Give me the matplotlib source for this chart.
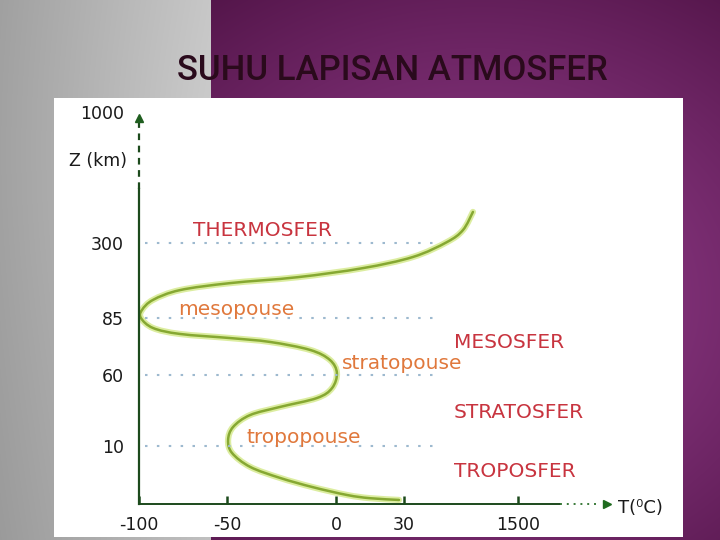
import numpy as np
import matplotlib
matplotlib.use("Agg")
import matplotlib.pyplot as plt
from matplotlib.path import Path
from matplotlib.patches import PathPatch, Rectangle

# --- data ---
t_ticks = [-100, -50, 0, 30, 1500]
z_ticks = [10, 60, 85, 300, 1000]

# temperature profile, T in degC, Z in km
curve_t = [27.8, 15.0, 4.9, -10.6, -25.7, -39.4, -47.7, -49.5, -47.2, -39.4,
           -25.7, -8.7, -1.8, 0.4, -2.8, -11.9, -30.3, -48.6, -76.7, -92.0,
           -98.9, -98.3, -92.0, -76.7, -48.6, -17.6, 11.9, 146, 584, 790, 919]
curve_z = [0.7, 1.0, 1.55, 2.9, 4.5, 6.4, 8.8, 14.2, 23.4, 31.8,
           37.5, 43.8, 50.8, 60.9, 66.6, 71.0, 74.5, 76.2, 78.0, 80.6,
           85.0, 108, 137, 165, 185, 202, 228, 260, 305, 369, 466]

boundary_z = [10, 60, 85, 300]
layer_names = ["TROPOSFER", "STRATOSFER", "MESOSFER", "THERMOSFER"]
pause_names = ["tropopouse", "stratopouse", "mesopouse"]

title = "SUHU LAPISAN ATMOSFER"


# the axes of the sketch are not linear: piecewise warp between the ticks
def make_warp(vals, pos):
    vals = np.asarray(vals, float)
    pos = np.asarray(pos, float)

    def _map(v, a, b):
        v = np.asarray(v, float)
        out = np.interp(v, a, b)
        lo = (b[1] - b[0]) / (a[1] - a[0])
        hi = (b[-1] - b[-2]) / (a[-1] - a[-2])
        out = np.where(v < a[0], b[0] + (v - a[0]) * lo, out)
        out = np.where(v > a[-1], b[-1] + (v - a[-1]) * hi, out)
        return out

    return (lambda v: _map(v, vals, pos)), (lambda p: _map(p, pos, vals))


fx, ix = make_warp(t_ticks, [0, 88, 197, 265, 379])
fy, iy = make_warp([0] + z_ticks, [0, 58, 129, 186, 261, 392])


def smooth_path(xs, ys):
    # catmull-rom through the read points, done in warped space
    P = np.column_stack([fx(xs), fy(ys)])
    verts = [P[0]]
    codes = [Path.MOVETO]
    n = len(P)
    for i in range(n - 1):
        p0 = P[i - 1] if i > 0 else P[i]
        p3 = P[i + 2] if i + 2 < n else P[i + 1]
        c1 = P[i] + (P[i + 1] - p0) / 6.0
        c2 = P[i + 1] - (p3 - P[i]) / 6.0
        verts += [c1, c2, P[i + 1]]
        codes += [Path.CURVE4] * 3
    V = np.array(verts)
    return Path(np.column_stack([ix(V[:, 0]), iy(V[:, 1])]), codes)


fig = plt.figure(figsize=(7.2, 5.4), dpi=100)

# slide background
bg = fig.add_axes([0, 0, 1, 1])
bg.set_xlim(0, 720)
bg.set_ylim(540, 0)
bg.axis("off")
yy, xx = np.mgrid[0:540, 0:720]
img = np.zeros((540, 720, 3))
g = 0.66 + 0.14 * (xx / 211.0) - 0.06 * np.hypot(xx - 211, yy - 150) / 500.0
r = np.clip(np.hypot((xx - 480) / 520.0, (yy - 300) / 430.0), 0, 1) ** 1.3
c_in = np.array([0x92, 0x3c, 0x8a]) / 255.0
c_out = np.array([0x48, 0x0e, 0x3e]) / 255.0
purple = c_in[None, None, :] * (1 - r[..., None]) + c_out[None, None, :] * r[..., None]
left = xx < 211
img[left] = np.repeat(g[left][:, None], 3, axis=1)
img[~left] = purple[~left]
bg.imshow(img, extent=(0, 720, 540, 0), aspect="auto")
bg.add_patch(Rectangle((54, 98), 629, 439, facecolor="white", edgecolor="none"))
bg.text(177, 71, title, ha="left", va="center", fontsize=25, fontweight="medium",
        family=["Roboto", "DejaVu Sans"], color="#2a0a1c")

# chart
ax = fig.add_axes([139 / 720, 36 / 540, 473 / 720, 392 / 540])
ax.set_facecolor("none")
ax.set_xscale("function", functions=(fx, ix))
ax.set_yscale("function", functions=(fy, iy))
ax.set_xlim(-100, float(ix(473)))
ax.set_ylim(0, 1000)
for s in ax.spines.values():
    s.set_visible(False)

ax.hlines(boundary_z, 0.013, 0.632, transform=ax.get_yaxis_transform(),
          colors="#9db9cf", linestyles=(0, (1.2, 4.5)), lw=1.5)

path = smooth_path(curve_t, curve_z)
ax.add_patch(PathPatch(path, fill=False, lw=4.5, ec="#dcedA0", capstyle="round"))
ax.add_patch(PathPatch(path, fill=False, lw=1.8, ec="#86a832", capstyle="round"))

axis_c = "#1c4a1c"
ax.plot([0, 0], [0, 0.804], transform=ax.transAxes, color=axis_c, lw=1.6, clip_on=False)
ax.plot([0, 0], [0.804, 0.975], transform=ax.transAxes, color=axis_c, lw=1.6,
        ls=(0, (3, 2.5)), clip_on=False)
ax.plot([0], [0.985], transform=ax.transAxes, marker="^", ms=6, color="#1f5e1f", clip_on=False)
ax.plot([0, 0.89], [0, 0], transform=ax.transAxes, color=axis_c, lw=1.4, clip_on=False)
ax.plot([0.89, 0.975], [0, 0], transform=ax.transAxes, color="#3a7a3a", lw=1.4,
        ls=(0, (1, 2.5)), clip_on=False)
ax.plot([0.99], [0], transform=ax.transAxes, marker=">", ms=6, color="#1f6b1f", clip_on=False)

ax.set_xticks(t_ticks)
ax.set_xticklabels([str(t) for t in t_ticks])
ax.set_yticks(z_ticks)
ax.set_yticklabels([str(z) for z in z_ticks])
ax.tick_params(axis="x", direction="in", length=6, width=1.8, color=axis_c,
               pad=9, labelsize=12.5, labelcolor="#1a1a1a")
ax.tick_params(axis="y", length=0, pad=11, labelsize=12.5, labelcolor="#1a1a1a")
ax.minorticks_off()

ax.text(-0.025, 0.875, "Z (km)", transform=ax.transAxes, ha="right", va="center",
        fontsize=12.5, color="#1a1a1a")
ax.text(1.013, -0.01, "T(⁰C)", transform=ax.transAxes, ha="left", va="center",
        fontsize=13, color="#1a1a1a", clip_on=False)

red = "#c8343f"
orange = "#e0783c"
layer_xy = [(0.666, 0.069), (0.666, 0.219), (0.666, 0.398), (0.114, 0.684)]
for name, (x, y) in zip(layer_names, layer_xy):
    ax.text(x, y, name, transform=ax.transAxes, ha="left", va="baseline",
            fontsize=14.5, color=red)
pause_xy = [(0.228, 0.156), (0.429, 0.344), (0.082, 0.482)]
for name, (x, y) in zip(pause_names, pause_xy):
    ax.text(x, y, name, transform=ax.transAxes, ha="left", va="baseline",
            fontsize=14.5, color=orange)

fig.savefig("out.png", dpi=100)
